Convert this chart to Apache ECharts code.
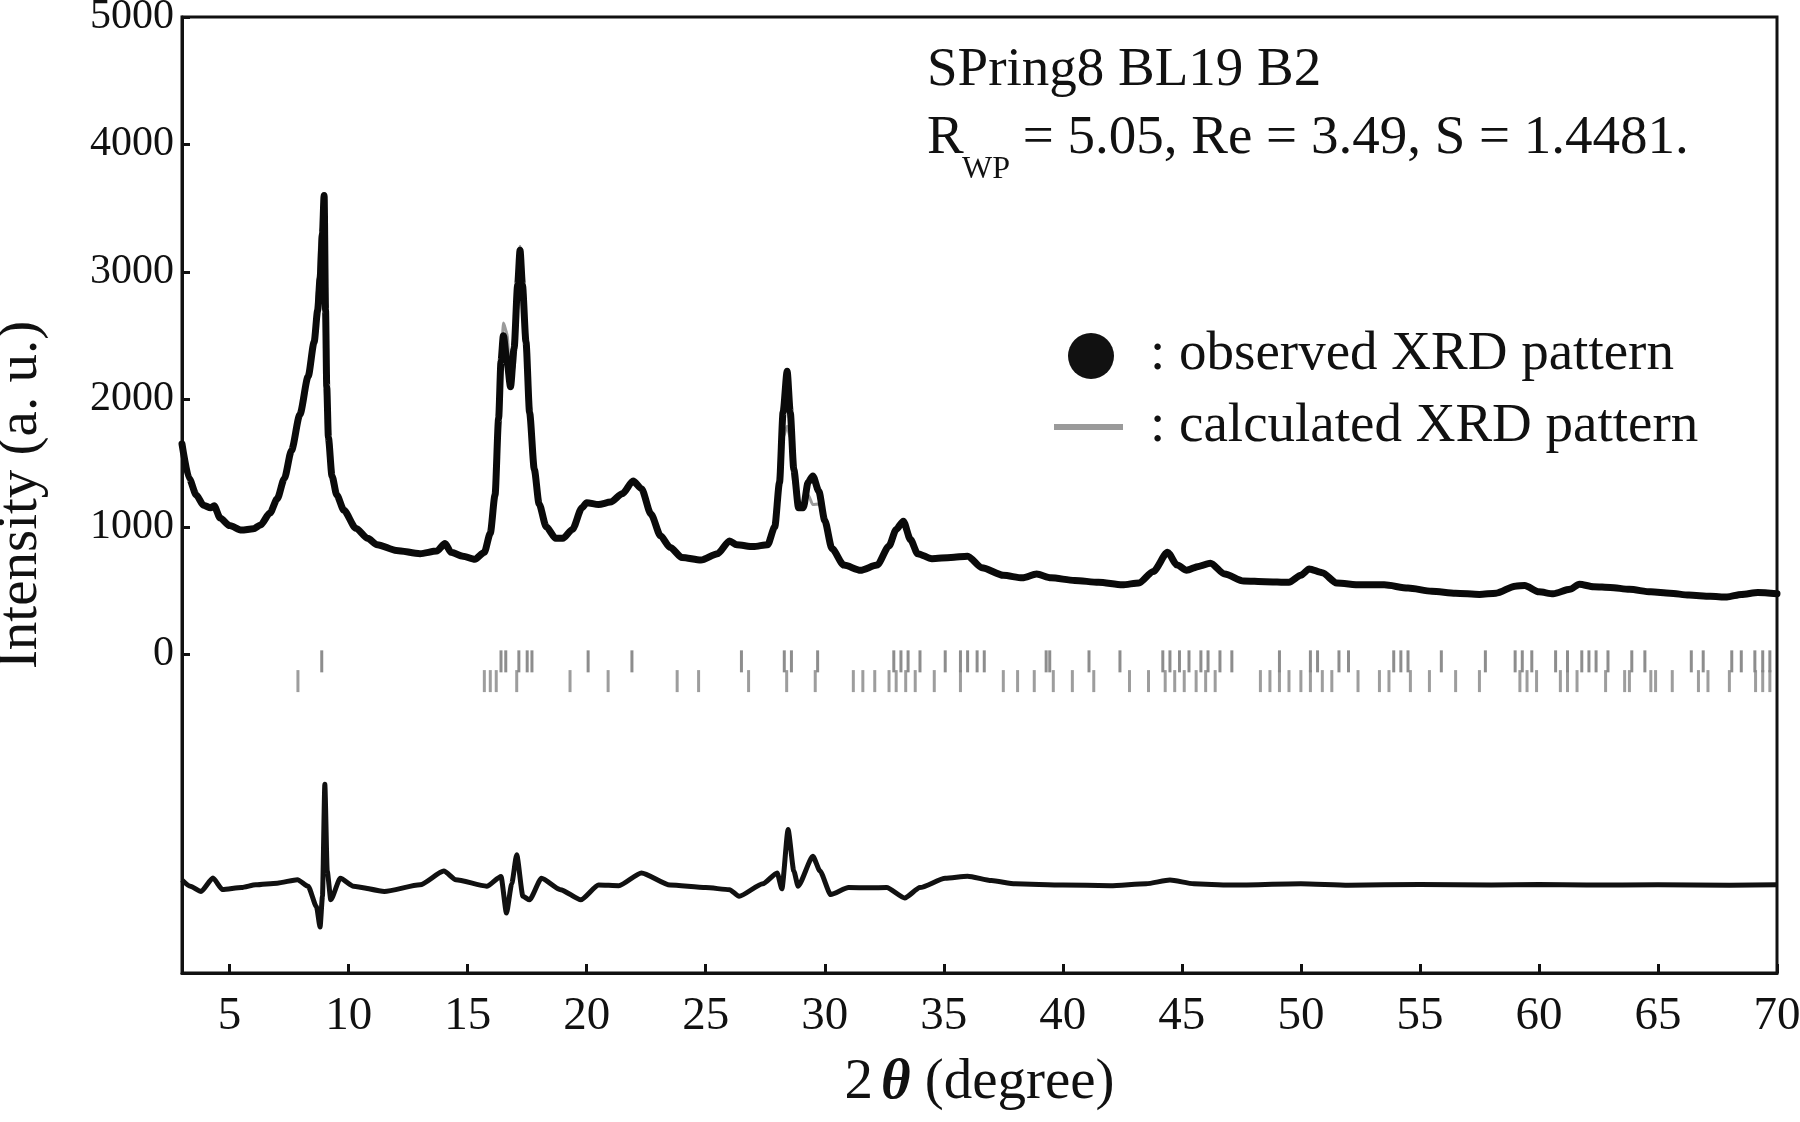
<!DOCTYPE html>
<html>
<head>
<meta charset="utf-8">
<script src="https://cdn.jsdelivr.net/npm/echarts@6/dist/echarts.min.js"></script>
<style>
html,body{margin:0;padding:0;background:#fff;}
#chart{width:1800px;height:1122px;}
</style>
</head>
<body>
<div id="chart"></div>
<script>
// ---- data ----
const xTicks = [5,10,15,20,25,30,35,40,45,50,55,60,65,70];
const yTicks = [0,1000,2000,3000,4000,5000];

const obsX = [3.0,3.3,3.6,3.9,4.2,4.35,4.6,5.0,5.5,6.0,6.3,6.7,7.0,7.3,7.6,7.95,8.3,8.55,8.7,8.8,8.9,8.97,9.03,9.08,9.15,9.3,9.5,9.8,10.3,10.8,11.2,12.0,13.0,13.7,14.05,14.3,14.8,15.3,15.7,15.95,16.15,16.3,16.4,16.5,16.65,16.8,16.95,17.1,17.2,17.3,17.45,17.6,17.8,18.0,18.3,18.7,19.0,19.4,19.8,20.0,20.5,21.0,21.5,21.95,22.3,22.7,23.1,23.5,24.0,24.8,25.5,26.0,26.3,27.0,27.6,27.9,28.1,28.25,28.42,28.55,28.7,28.9,29.1,29.3,29.5,29.75,30.0,30.3,30.8,31.5,32.2,32.7,33.0,33.3,33.6,33.9,34.5,35.3,36.0,36.6,37.5,38.3,38.9,39.5,40.5,41.5,42.5,43.2,43.8,44.4,44.8,45.2,45.7,46.2,46.8,47.6,48.5,49.5,50.0,50.35,50.9,51.5,52.5,53.5,54.5,55.5,56.5,57.5,58.2,59.0,59.4,60.0,60.6,61.3,61.7,62.3,63.0,63.8,64.7,65.5,66.3,67.2,67.9,68.5,69.2,70.0];
const obsY = [1650,1380,1250,1170,1150,1165,1070,1010,975,985,1015,1110,1220,1380,1600,1880,2180,2450,2700,2950,3300,3600,2700,2100,1700,1400,1250,1130,990,910,860,815,790,810,870,800,770,745,800,950,1250,1850,2300,2500,2300,2100,2400,2900,3170,2900,2450,1900,1450,1180,1000,910,910,980,1150,1190,1175,1195,1260,1360,1300,1100,930,840,760,740,790,890,860,845,860,1000,1350,1900,2220,1900,1450,1150,1150,1350,1400,1280,1050,830,700,660,700,850,980,1045,900,790,750,760,770,680,620,600,630,600,580,565,545,560,650,800,700,660,690,715,630,575,570,565,620,670,640,560,545,545,520,495,480,470,480,535,540,490,475,510,550,530,525,510,490,480,465,455,450,470,485,475];
const calcY = [1640,1390,1250,1170,1140,1150,1070,1010,975,985,1015,1110,1220,1380,1600,1880,2180,2470,2870,3280,3390,2810,2300,1990,1790,1420,1250,1130,990,910,860,815,790,810,840,800,770,745,800,950,1250,1850,2230,2600,2520,2100,2250,2700,3200,2990,2550,2016,1470,1180,1000,910,910,980,1150,1190,1175,1195,1260,1360,1300,1100,930,840,760,740,790,890,860,845,860,1000,1350,1700,1790,1700,1340,1150,1150,1250,1175,1180,1050,830,700,660,700,850,980,1045,900,790,750,760,770,680,620,600,630,600,580,565,545,560,650,790,700,660,690,715,630,575,570,565,620,670,640,560,545,545,520,495,480,470,480,535,540,490,475,510,550,530,525,510,490,480,465,455,450,470,485,475];

const diffX = [3.0,3.35,3.8,4.3,4.7,5.5,6.1,7.0,7.85,8.3,8.65,8.8,8.9,9.0,9.1,9.25,9.65,10.2,11.5,13.0,14.0,14.5,15.8,16.4,16.63,16.85,17.06,17.32,17.6,18.1,18.9,19.75,20.5,21.35,22.3,23.5,25.0,26.0,26.4,27.4,28.0,28.2,28.46,28.7,28.88,29.5,29.8,30.25,31.0,31.9,32.6,33.36,34.0,35.06,36.0,37.0,38.0,40.0,42.0,43.5,44.5,45.5,47.0,50.0,52.0,55.0,58.0,60.0,62.0,65.0,68.0,70.0];
const diffY = [-1770,-1820,-1860,-1755,-1845,-1830,-1808,-1795,-1768,-1820,-1980,-2140,-1900,-1020,-1700,-1925,-1757,-1819,-1860,-1808,-1700,-1768,-1819,-1742,-2030,-1800,-1572,-1898,-1926,-1757,-1846,-1926,-1810,-1815,-1715,-1810,-1830,-1846,-1898,-1800,-1715,-1840,-1375,-1700,-1819,-1585,-1700,-1885,-1830,-1832,-1830,-1911,-1830,-1757,-1740,-1775,-1800,-1810,-1815,-1800,-1770,-1800,-1810,-1800,-1812,-1805,-1810,-1805,-1810,-1808,-1812,-1808];

const braggUpper = [8.87,16.4,16.6,17.15,17.5,17.7,20.06,21.9,26.5,28.3,28.6,29.7,32.9,33.2,33.5,34.0,35.06,35.7,36.0,36.4,36.7,39.3,39.45,41.1,42.4,44.2,44.5,44.9,45.3,45.8,46.1,46.6,47.1,49.1,50.4,50.7,51.6,52.0,53.9,54.2,54.5,55.9,57.75,59.0,59.3,59.7,60.7,61.2,61.8,62.1,62.4,62.9,63.9,64.45,66.4,66.9,68.1,68.5,69.07,69.4,69.7];
const braggLower = [7.87,15.7,15.95,16.2,17.06,19.3,20.9,23.8,24.7,26.8,28.4,29.6,31.2,31.6,32.1,32.7,33.0,33.4,33.8,34.6,35.7,37.5,38.1,38.8,39.6,40.4,41.3,42.8,43.6,44.3,44.7,45.1,45.6,46.0,46.4,48.3,48.7,49.1,49.5,50.0,50.4,50.9,51.3,52.4,53.3,53.7,54.6,55.4,56.5,57.5,59.2,59.5,59.9,60.9,61.2,61.6,62.8,63.6,63.8,64.7,64.9,65.6,66.7,67.1,68.0,69.1,69.4,69.7];
const braggUpperLevel = -55;
const braggLowerLevel = -210;

const annotLine1 = 'SPring8 BL19 B2';
const annotR = 'R';
const annotSub = 'WP';
const annotRest = ' = 5.05, Re = 3.49, S = 1.4481.';
const legendObs = ': observed XRD pattern';
const legendCalc = ': calculated XRD pattern';

// ---- build ----
const FONT = '"Liberation Serif", "Times New Roman", serif';
const zip = (xs, ys) => xs.map((x, i) => [x, ys[i]]);

const chart = echarts.init(document.getElementById('chart'), null, {renderer: 'canvas'});
const option = {
  backgroundColor: '#fff',
  animation: false,
  grid: {left: 182, right: 23, top: 17, bottom: 149, containLabel: false, outerBoundsMode: 'none',
         show: true, borderColor: '#111', borderWidth: 3, backgroundColor: 'transparent'},
  xAxis: {
    type: 'value', min: 3, max: 70,
    axisLine: {show: true, onZero: false, lineStyle: {color: '#111', width: 3}},
    axisTick: {show: true, inside: true, length: 9, customValues: xTicks, lineStyle: {color: '#111', width: 3}},
    axisLabel: {customValues: xTicks, color: '#111', fontFamily: FONT, fontSize: 47, margin: 20,
                formatter: v => String(v)},
    splitLine: {show: false},
    name: '{n|2}{t|θ}{n| (degree)}',
    nameLocation: 'middle', nameGap: 82,
    nameTextStyle: {rich: {
      n: {fontFamily: FONT, fontSize: 57, color: '#111'},
      t: {fontFamily: FONT, fontSize: 57, color: '#111', fontStyle: 'italic', fontWeight: 'bold', padding: [0, 0, 0, 8]}
    }}
  },
  yAxis: {
    type: 'value', min: -2500, max: 5000,
    axisLine: {show: true, onZero: false, lineStyle: {color: '#111', width: 3}},
    axisTick: {show: true, inside: true, length: 8, customValues: yTicks, lineStyle: {color: '#111', width: 3}},
    axisLabel: {customValues: yTicks, color: '#111', fontFamily: FONT, fontSize: 42, margin: 8,
                formatter: v => String(v)},
    splitLine: {show: false},
    name: 'Intensity (a. u.)',
    nameLocation: 'middle', nameGap: 132, nameRotate: 90,
    nameTextStyle: {fontFamily: FONT, fontSize: 57, color: '#111'}
  },
  series: [
    {
      name: 'bragg upper', type: 'scatter', symbol: 'rect', symbolSize: [3, 22],
      itemStyle: {color: '#707070'}, silent: true,
      data: braggUpper.map(x => [x, braggUpperLevel])
    },
    {
      name: 'bragg lower', type: 'scatter', symbol: 'rect', symbolSize: [3, 22],
      itemStyle: {color: '#858585'}, silent: true,
      data: braggLower.map(x => [x, braggLowerLevel])
    },
    {
      name: 'calculated', type: 'line', showSymbol: false, smooth: 0.25, smoothMonotone: 'x',
      lineStyle: {color: '#9a9a9a', width: 3}, z: 2,
      data: zip(obsX, calcY)
    },
    {
      name: 'observed', type: 'line', showSymbol: false, smooth: 0.25, smoothMonotone: 'x',
      lineStyle: {color: '#0a0a0a', width: 7, join: 'round', cap: 'round'}, z: 3,
      data: zip(obsX, obsY)
    },
    {
      name: 'difference', type: 'line', showSymbol: false, smooth: 0.2, smoothMonotone: 'x',
      lineStyle: {color: '#111', width: 5, join: 'round'}, z: 3,
      data: zip(diffX, diffY)
    }
  ],
  graphic: [
    {type: 'text', x: 927, y: 71, style: {text: annotLine1, fontFamily: FONT, fontSize: 55, fill: '#111', verticalAlign: 'middle'}},
    {type: 'text', x: 927, y: 139, style: {text: annotR, fontFamily: FONT, fontSize: 55, fill: '#111', verticalAlign: 'middle'}},
    {type: 'text', x: 962, y: 170, style: {text: annotSub, fontFamily: FONT, fontSize: 32, fill: '#111', verticalAlign: 'middle'}},
    {type: 'text', x: 1009, y: 139, style: {text: annotRest, fontFamily: FONT, fontSize: 55, fill: '#111', verticalAlign: 'middle'}},
    {type: 'circle', shape: {cx: 1091, cy: 356, r: 23}, style: {fill: '#111'}},
    {type: 'text', x: 1150, y: 355, style: {text: legendObs, fontFamily: FONT, fontSize: 55, fill: '#111', verticalAlign: 'middle'}},
    {type: 'line', shape: {x1: 1054, y1: 427, x2: 1123, y2: 427}, style: {stroke: '#9a9a9a', lineWidth: 6}},
    {type: 'text', x: 1150, y: 427, style: {text: legendCalc, fontFamily: FONT, fontSize: 55, fill: '#111', verticalAlign: 'middle'}}
  ]
};
chart.setOption(option);
</script>
</body>
</html>
